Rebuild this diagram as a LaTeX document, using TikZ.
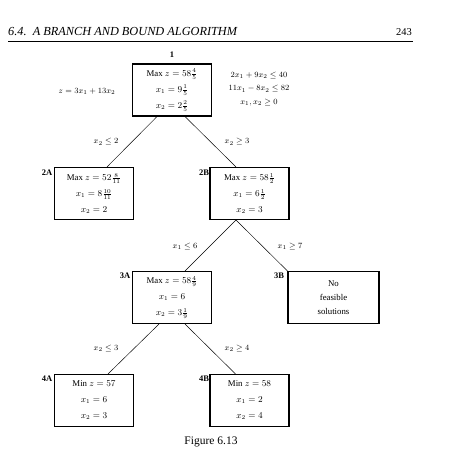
\documentclass[tikz,border=0pt]{standalone}
\usepackage{fontspec}
\setmainfont{Liberation Serif}
\usetikzlibrary{calc}
\begin{document}
\begin{tikzpicture}[x=1pt,y=-1pt,
  box/.style={draw, line width=1.1pt, minimum width=79pt, minimum height=52pt, align=center, inner sep=0pt, font=\fontsize{8.8}{16}\selectfont},
  tag/.style={font=\bfseries\fontsize{8.5}{9}\selectfont, inner sep=0pt},
  lab/.style={font=\fontsize{8}{10}\selectfont, inner sep=0pt},
  edge/.style={line width=0.45pt}]
\useasboundingbox (0,0) rectangle (465,454);
% header
\node[anchor=base west, inner sep=0pt, font=\itshape\fontsize{12.3}{14}\selectfont] (hd) at (8,36) {6.4.\ \ A BRANCH AND BOUND ALGORITHM};
\node[anchor=base east, inner sep=0pt, font=\fontsize{10.5}{12}\selectfont] (pg) at (412,36) {243};
\coordinate (rl) at (8,41.5);
\coordinate (rr) at (413,41.5);
\draw[line width=0.6pt] (rl) -- (rr);
% nodes
\node[box] (n1) at (172,90) {Max $z=58\frac{4}{5}$\\ $x_1=9\frac{1}{5}$\\ $x_2=2\frac{2}{5}$};
\node[box] (n2a) at (94,193.5) {Max $z=52\frac{8}{11}$\\ $x_1=8\frac{10}{11}$\\ $x_2=2$};
\node[box] (n2b) at (249.5,193.5) {Max $z=58\frac{1}{2}$\\ $x_1=6\frac{1}{2}$\\ $x_2=3$};
\node[box] (n3a) at (172,297.5) {Max $z=58\frac{4}{9}$\\ $x_1=6$\\ $x_2=3\frac{1}{9}$};
\node[box, minimum width=91pt, font=\fontsize{8.8}{14}\selectfont] (n3b) at (333.5,297.5) {No\\ feasible\\ solutions};
\node[box] (n4a) at (94,400.5) {Min $z=57$\\ $x_1=6$\\ $x_2=3$};
\node[box] (n4b) at (249.5,400.5) {Min $z=58$\\ $x_1=2$\\ $x_2=4$};
% tags
\node[tag] (t1) at (172,55) {1};
\node[tag] (t2a) at (47,173) {2A};
\node[tag] (t2b) at (204,173) {2B};
\node[tag] (t3a) at (125,276) {3A};
\node[tag] (t3b) at (279,276) {3B};
\node[tag] (t4a) at (47,379) {4A};
\node[tag] (t4b) at (204,379) {4B};
% side texts
\node[lab] (obj) at (87,91) {$z=3x_1+13x_2$};
\node[lab, align=center, font=\fontsize{8}{13.5}\selectfont] (cons) at (259,89) {$2x_1+9x_2\le 40$\\ $11x_1-8x_2\le 82$\\ $x_1,x_2\ge 0$};
% connectors
\draw[edge] ($(n1.south)+(-15,0)$) -- ($(n2a.north)+(13,0)$);
\draw[edge] ($(n1.south)+(13,0)$) -- ($(n2b.north)+(-13.5,0)$);
\draw[edge] ($(n2b.south)+(-13.5,0)$) -- ($(n3a.north)+(13,0)$);
\draw[edge] ($(n2b.south)+(-13.5,0)$) -- (n3b.north west);
\draw[edge] ($(n3a.south)+(-13,0)$) -- ($(n4a.north)+(14,0)$);
\draw[edge] ($(n3a.south)+(13,0)$) -- ($(n4b.north)+(-14,0)$);
% edge labels
\node[lab] (l1) at (106,142) {$x_2\le 2$};
\node[lab] (l2) at (237,142) {$x_2\ge 3$};
\node[lab] (l3) at (185,246) {$x_1\le 6$};
\node[lab] (l4) at (290,246) {$x_1\ge 7$};
\node[lab] (l5) at (106,348) {$x_2\le 3$};
\node[lab] (l6) at (237,348) {$x_2\ge 4$};
% caption
\node[inner sep=0pt, font=\fontsize{11.5}{13}\selectfont] (cap) at (211,442) {Figure 6.13};
\end{tikzpicture}
\end{document}
